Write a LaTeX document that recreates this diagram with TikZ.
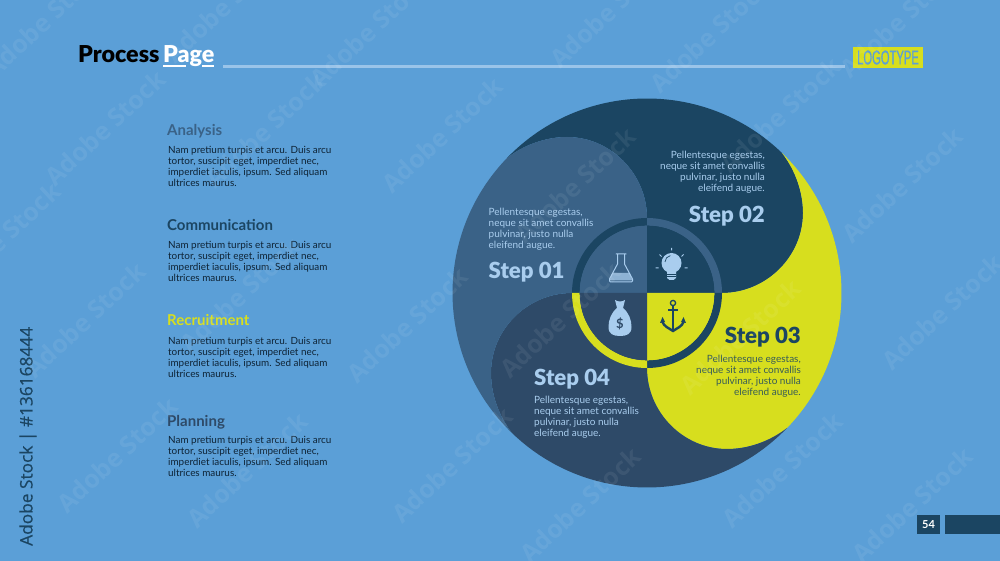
\documentclass[tikz,border=0pt]{standalone}
\usepackage{fontspec}
\setmainfont{Lato}
\newfontfamily\titlefont{Lato Black}
\newfontfamily\wmfont{Open Sans}
\newfontfamily\idfont[FakeBold=0.5]{Open Sans}
\newfontfamily\logofont[FakeStretch=0.56,FakeBold=0.6]{Liberation Sans}
\definecolor{pagebg}{HTML}{5B9FD7}
\definecolor{navy}{HTML}{1B4562}
\definecolor{steel}{HTML}{3A6287}
\definecolor{slate}{HTML}{2E4A68}
\definecolor{lime}{HTML}{D7DE1E}
\definecolor{pale}{HTML}{A9CDEE}
\definecolor{ink}{HTML}{0E2335}
\tikzset{
  bodytxt/.style={anchor=north west,inner sep=0pt,align=left,text=ink,font=\fontsize{9.9}{11}\selectfont},
  headtxt/.style={anchor=base west,inner sep=0pt,font=\fontsize{15}{15}\selectfont\bfseries},
  leftnote/.style={anchor=north west,inner sep=0pt,align=left,text=pale,font=\fontsize{10}{11}\selectfont},
  rightnote/.style={anchor=north east,inner sep=0pt,align=right,text=pale,font=\fontsize{10}{11}\selectfont},
  stephead/.style={inner sep=0pt,text=pale,font=\titlefont\fontsize{22.2}{23}\selectfont},
  wmark/.style={rotate=43,white,opacity=.07,font=\wmfont\fontsize{25}{25}\selectfont\bfseries},
  iconline/.style={draw=pale,line width=1pt,line cap=round,line join=round}
}
\newcommand{\noteA}{Pellentesque egestas,\\neque sit amet convallis\\pulvinar, justo nulla\\eleifend augue.}
\newcommand{\bodyA}{Nam pretium turpis et arcu. Duis arcu\\tortor, suscipit eget, imperdiet nec,\\imperdiet iaculis, ipsum. Sed aliquam\\ultrices maurus.}
\begin{document}
\begin{tikzpicture}[x=1pt,y=1pt]
  \useasboundingbox (0,0) rectangle (1000,561);
  \clip (0,0) rectangle (1000,561);
  \fill[pagebg] (0,0) rectangle (1000,561);
  % header
  \node[anchor=base west,inner sep=0pt,font=\titlefont\fontsize{23.3}{24}\selectfont] (title) at (78,498.5) {Process\hspace{3.5pt}\textcolor{white}{Page}};
  \draw[white,line width=2pt] (163,494.5)--(186,494.5);
  \draw[white,line width=2pt] (202,494.5)--(214,494.5);
  \draw[pale!80!pagebg,line width=2.4pt] (223,494.5)--(845,494.5);
  \node[fill=lime,inner sep=0pt,minimum width=70pt,minimum height=21pt,text=pagebg,font=\logofont\fontsize{20}{20}\selectfont] (logo) at (888,503.5) {LOGOTYPE};
  % left column
  \node[headtxt,text=steel] (anahead) at (167,425) {Analysis};
  \node[bodytxt] (anabody) at (168,414.5) {\bodyA};
  \node[headtxt,text=navy] (comhead) at (167,330) {Communication};
  \node[bodytxt] (combody) at (168,319.5) {\bodyA};
  \node[headtxt,text=lime] (rechead) at (167,235) {Recruitment};
  \node[bodytxt] (recbody) at (168,223.5) {\bodyA};
  \node[headtxt,text=slate] (plahead) at (167,134) {Planning};
  \node[bodytxt] (plabody) at (168,124.5) {\bodyA};
  % wheel
  \begin{scope}[shift={(647,268)}]
    \foreach \ang/\col in {0/navy,-90/lime,-180/slate,90/steel}{
      \fill[\col,rotate=\ang] (0,0)--(0,75)
        .. controls (0,119) and (-36,156) .. (-80,156)
        .. controls (-100,156) and (-122,149) .. (-140,135)
        arc[start angle=136.04,end angle=46.04,radius=194.5]
        .. controls (149,122) and (156,100) .. (156,80)
        .. controls (156,36) and (119,0) .. (75,0)--cycle;
    }
    % ring, a quarter at a time
    \foreach \sa/\col in {90/navy,0/steel,-90/navy,-180/lime}{
      \fill[\col] (\sa:75) arc[start angle=\sa,delta angle=90,radius=75]
        -- ({\sa+90}:67.3) arc[start angle=\sa+90,delta angle=-90,radius=67.3]--cycle;
    }
    \fill[steel] (0,0)--(0,67.3) arc[start angle=90,end angle=180,radius=67.3]--cycle;
    \fill[navy] (0,0)--(67.3,0) arc[start angle=0,end angle=90,radius=67.3]--cycle;
    \fill[lime] (0,0)--(0,-67.3) arc[start angle=-90,end angle=0,radius=67.3]--cycle;
    \fill[slate] (0,0)--(-67.3,0) arc[start angle=180,end angle=270,radius=67.3]--cycle;
  \end{scope}
  % flask
  \begin{scope}[shift={(621,293)}]
    \fill[pale!75!steel] (-8.5,-5)--(8.5,-5)--(11.5,-12.5)--(-11.5,-12.5)--cycle;
    \draw[iconline] (-5,14)--(5,14) (-3.5,14)--(-3.5,4)--(-11.5,-11) [rounded corners=1pt]--(-11.5,-14)--(11.5,-14) [sharp corners]--(11.5,-11)--(3.5,4)--(3.5,14);
  \end{scope}
  % bulb
  \begin{scope}[shift={(671.5,298)}]
    \fill[pale] (-4.5,-7.5)--(4.5,-7.5)--(4.5,-15)--(2,-17)--(-2,-17)--(-4.5,-15)--cycle;
    \fill[pale] (0,0) circle (10);
    \draw[navy,line width=.8pt] (-4.5,-11)--(4.5,-11) (-4.5,-13.5)--(4.5,-13.5);
    \draw[navy,line width=.7pt] (-6.5,1) arc[start angle=180,end angle=100,radius=6.5];
    \draw[pale,line width=1pt] (0,12.5)--(0,15) (-12,8.5)--(-10,6.5) (12,8.5)--(10,6.5) (-16,-5)--(-13,-5) (16,-5)--(13,-5);
  \end{scope}
  % money bag
  \begin{scope}[shift={(620,238)}]
    \fill[pale] (-5,23) .. controls (-2,21) and (2,21) .. (5,23) -- (3,15) -- (-3,15) -- cycle;
    \fill[pale] (-3,15) .. controls (-9,10) and (-11.5,3) .. (-11.5,-4)
      .. controls (-11.5,-11) and (-7,-13) .. (0,-13)
      .. controls (7,-13) and (11.5,-11) .. (11.5,-4)
      .. controls (11.5,3) and (9,10) .. (3,15) -- cycle;
    \node[inner sep=0pt,text=slate,font=\fontsize{13}{13}\selectfont\bfseries] (dollar) at (0,-1) {\$};
  \end{scope}
  % anchor
  \begin{scope}[shift={(673,243)}]
    \draw[navy,line width=1.3pt] (0,15) circle (2.6);
    \draw[navy,line width=2.2pt] (0,12.5)--(0,-12) (-5,8)--(5,8);
    \draw[navy,line width=2.4pt] (-11,-3) .. controls (-9,-9) and (-4,-10) .. (0,-13) .. controls (4,-10) and (9,-9) .. (11,-3);
    \fill[navy] (-13,-5)--(-10.5,1)--(-8,-4)--cycle (13,-5)--(10.5,1)--(8,-4)--cycle;
  \end{scope}
  % step labels
  \node[leftnote] (noteone) at (488.5,353) {\noteA};
  \node[stephead,anchor=base west] (stepone) at (488.5,282) {Step 01};
  \node[rightnote] (notetwo) at (765,410) {\noteA};
  \node[stephead,anchor=base east] (steptwo) at (765,338) {Step 02};
  \node[rightnote,text=navy!85!lime] (notethr) at (801,206) {\noteA};
  \node[stephead,anchor=base east,text=navy] (stepthr) at (801,217) {Step 03};
  \node[leftnote] (notefou) at (534,165) {\noteA};
  \node[stephead,anchor=base west] (stepfou) at (534,175) {Step 04};
  % footer
  \node[fill=navy,inner sep=0pt,minimum width=23pt,minimum height=19pt,text=white,font=\fontsize{11}{11}\selectfont\bfseries] (pagenum) at (928.5,36.5) {54};
  \fill[navy] (945,27) rectangle (1000,46);
  \node[rotate=90,anchor=west,inner sep=0pt,text=navy,font=\idfont\fontsize{17.3}{17}\selectfont] (stockid) at (28,15) {Adobe Stock | \#136168444};
  % watermark
  \foreach \wx/\wy [count=\wi] in {105/433,265/431,442/426,575/376,780/446,902/376,710/526,370/531,610/551,45/541,225/556,900/541,0/321,85/241,240/266,407/236,560/241,740/224,942/249,117/106,247/91,452/96,580/56,782/91,912/56}
    \node[wmark] (wm\wi) at (\wx,\wy) {Adobe Stock};
\end{tikzpicture}
\end{document}
